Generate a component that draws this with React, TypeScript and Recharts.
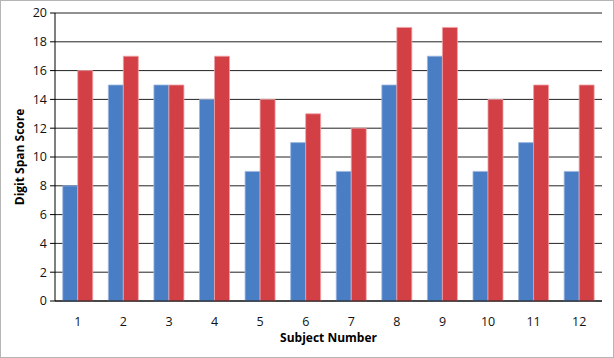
import { Bar, BarChart, CartesianGrid, XAxis, YAxis } from 'recharts';

const subjects = ['1', '2', '3', '4', '5', '6', '7', '8', '9', '10', '11', '12'];
const blueScores = [8, 15, 15, 14, 9, 11, 9, 15, 17, 9, 11, 9];
const redScores = [16, 17, 15, 17, 14, 13, 12, 19, 19, 14, 15, 15];
const yTicks = [0, 2, 4, 6, 8, 10, 12, 14, 16, 18, 20];
const boundaryTicks = [0, 1, 2, 3, 4, 5, 6, 7, 8, 9, 10, 11, 12];

const data = subjects.map((s, i) => ({
  subject: s,
  blue: blueScores[i],
  red: redScores[i],
}));

const FONT = '"Open Sans", "Liberation Sans", sans-serif';

export default function App() {
  return (
    <div
      style={{
        width: 614,
        height: 358,
        border: '1px solid #b5b5b5',
        boxSizing: 'border-box',
        fontFamily: FONT,
        background: '#fff',
      }}
    >
      <style>{'body{margin:0}'}</style>
      <BarChart
        width={612}
        height={356}
        data={data}
        barCategoryGap="17%"
        barGap={0}
        margin={{ top: 12, right: 11, left: 0, bottom: 0 }}
      >
        <CartesianGrid vertical={false} stroke="#222" strokeWidth={1} />
        <XAxis
          xAxisId="ticks"
          type="number"
          domain={[0, 12]}
          ticks={boundaryTicks}
          allowDataOverflow
          height={0}
          axisLine={false}
          tickLine={{ stroke: '#000' }}
          tickSize={6}
          tickFormatter={() => ''}
        />
        <XAxis
          dataKey="subject"
          height={56}
          axisLine={{ stroke: '#000' }}
          tickLine={false}
          tick={{ fontSize: 12.5, fill: '#111', fontFamily: FONT }}
          tickMargin={10}
          label={{
            value: 'Subject Number',
            position: 'insideBottom',
            offset: 15,
            style: { fontSize: 12, fontWeight: 'bold', fill: '#000', fontFamily: FONT },
          }}
        />
        <YAxis
          width={54}
          domain={[0, 20]}
          ticks={yTicks}
          interval={0}
          axisLine={{ stroke: '#000' }}
          tickLine={{ stroke: '#000' }}
          tickSize={5}
          tickMargin={3}
          tick={{ fontSize: 12.5, fill: '#111', fontFamily: FONT }}
          label={{
            value: 'Digit Span Score',
            angle: -90,
            position: 'insideLeft',
            offset: 19,
            style: { fontSize: 12, fontWeight: 'bold', fill: '#000', fontFamily: FONT, textAnchor: 'middle' },
          }}
        />
        <Bar dataKey="blue" fill="#4a7ec4" stroke="#9ab6e0" strokeWidth={0.8} isAnimationActive={false} />
        <Bar dataKey="red" fill="#d23f45" stroke="#f0a2a6" strokeWidth={0.8} isAnimationActive={false} />
      </BarChart>
    </div>
  );
}
